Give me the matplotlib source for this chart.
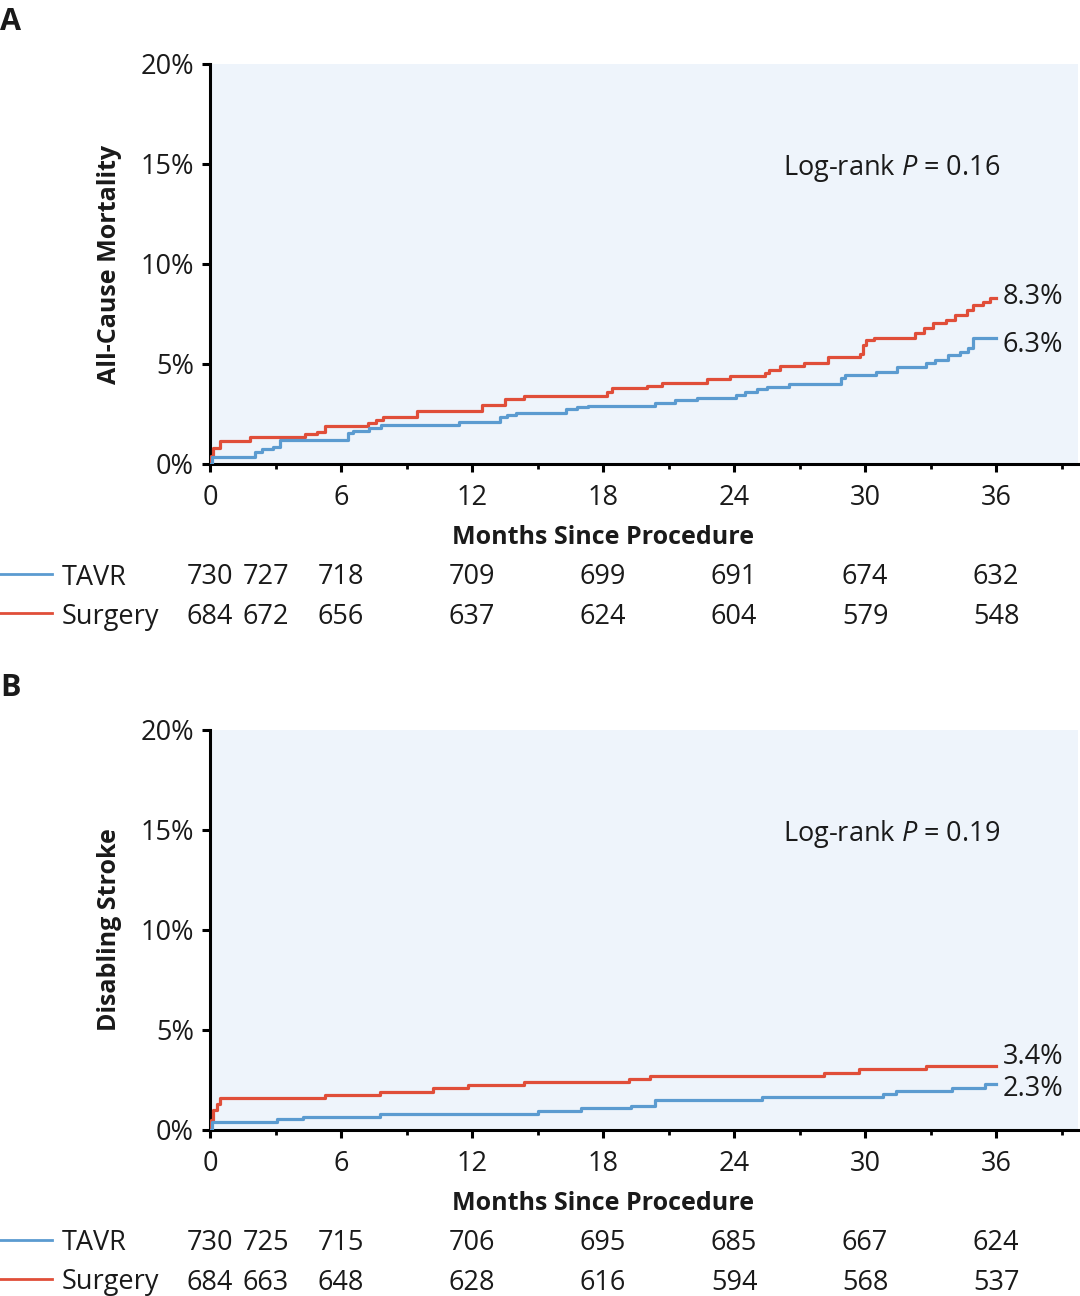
import matplotlib
matplotlib.use("Agg")
import matplotlib.pyplot as plt
from matplotlib.lines import Line2D
from matplotlib.ticker import MultipleLocator, FuncFormatter

plt.rcParams['font.family'] = ['Open Sans', 'DejaVu Sans']
plt.rcParams['mathtext.fontset'] = 'custom'
plt.rcParams['mathtext.it'] = 'Open Sans:italic'
plt.rcParams['mathtext.rm'] = 'Open Sans'

# ---------------- data ----------------
months_ticks = [0, 6, 12, 18, 24, 30, 36]
y_ticks = [0, 5, 10, 15, 20]

# Panel A: all-cause mortality (%)
a_tavr_t = [0, 0.1, 2.06, 2.4, 2.9, 3.2, 6.3, 6.55, 7.3, 7.85, 11.4, 13.3, 13.6, 14.0, 16.3, 16.8,
            17.3, 20.4, 21.3, 22.3, 24.1, 24.5, 25.05, 25.5, 26.5, 28.9, 29.1, 30.5, 31.45, 32.8,
            33.2, 33.8, 34.35, 34.7, 34.95, 36]
a_tavr_y = [0, 0.37, 0.62, 0.75, 0.87, 1.2, 1.57, 1.67, 1.82, 1.95, 2.08, 2.33, 2.47, 2.57, 2.73, 2.85,
            2.92, 3.07, 3.2, 3.32, 3.45, 3.58, 3.73, 3.85, 4.0, 4.28, 4.45, 4.62, 4.87, 5.03,
            5.2, 5.45, 5.62, 5.78, 6.28, 6.28]
a_surg_t = [0, 0.05, 0.15, 0.46, 1.83, 4.35, 4.9, 5.27, 7.24, 7.6, 7.9, 9.47, 12.45, 13.5, 14.4,
            18.2, 18.4, 20.0, 20.7, 22.75, 23.8, 25.4, 25.6, 26.1, 27.2, 28.3, 29.75, 29.9, 30.05,
            30.4, 32.3, 32.7, 33.1, 33.7, 34.1, 34.65, 34.95, 35.4, 35.7, 36]
a_surg_y = [0, 0.4, 0.8, 1.17, 1.33, 1.5, 1.62, 1.9, 2.07, 2.2, 2.37, 2.65, 2.95, 3.25, 3.42,
            3.6, 3.78, 3.9, 4.07, 4.23, 4.4, 4.57, 4.7, 4.9, 5.03, 5.33, 5.5, 5.95, 6.2,
            6.3, 6.53, 6.78, 7.03, 7.2, 7.45, 7.7, 7.95, 8.1, 8.28, 8.28]
a_end_labels = ["8.3%", "6.3%"]
a_pvalue = "0.16"

# Panel B: disabling stroke (%)
b_tavr_t = [0, 0.1, 3.05, 4.27, 7.8, 15.0, 17.0, 19.3, 20.4, 25.3, 30.8, 31.4, 34.0, 35.5, 36]
b_tavr_y = [0, 0.42, 0.55, 0.67, 0.8, 0.95, 1.08, 1.2, 1.5, 1.67, 1.8, 1.95, 2.12, 2.28, 2.28]
b_surg_t = [0, 0.05, 0.15, 0.3, 0.46, 5.27, 7.8, 10.2, 11.8, 14.4, 19.2, 20.15, 28.1, 29.7, 32.8, 36]
b_surg_y = [0, 0.5, 1.0, 1.3, 1.58, 1.75, 1.92, 2.08, 2.25, 2.38, 2.55, 2.7, 2.87, 3.03, 3.2, 3.2]
b_end_labels = ["3.4%", "2.3%"]
b_pvalue = "0.19"

# Number at risk
risk_months = [0, 2.55, 6, 12, 18, 24, 30, 36]
a_risk_tavr = [730, 727, 718, 709, 699, 691, 674, 632]
a_risk_surg = [684, 672, 656, 637, 624, 604, 579, 548]
b_risk_tavr = [730, 725, 715, 706, 695, 685, 667, 624]
b_risk_surg = [684, 663, 648, 628, 616, 594, 568, 537]

BLUE = "#5B9BD0"
RED = "#E04E39"
BG = "#EEF4FB"
TXT = "#1a1a1a"
W, H = 1080, 1296
FS = 19.5
FSB = 18

fig = plt.figure(figsize=(W / 100, H / 100), dpi=100)


def panel(letter, top_px, ylabel, tavr_t, tavr_y, surg_t, surg_y, end_labels, pval,
          risk_t, risk_s, end_label_y):
    left, right = 210, 1078
    bottom_px = top_px + 400
    ax = fig.add_axes([left / W, 1 - bottom_px / H, (right - left) / W, 400 / H])
    ax.set_facecolor(BG)
    ax.step(surg_t, surg_y, where='post', color=RED, lw=2.3, zorder=3)
    ax.step(tavr_t, tavr_y, where='post', color=BLUE, lw=2.3, zorder=3)
    ax.set_xlim(0, 39.75)
    ax.set_ylim(0, 20)
    for s in ['top', 'right']:
        ax.spines[s].set_visible(False)
    for s in ['left', 'bottom']:
        ax.spines[s].set_linewidth(2.2)
    ax.set_xticks(months_ticks)
    ax.xaxis.set_minor_locator(MultipleLocator(3))
    ax.set_yticks(y_ticks)
    ax.yaxis.set_major_formatter(FuncFormatter(lambda v, p: f"{int(v)}%"))
    ax.tick_params(axis='both', which='major', direction='out', length=5.5, width=2.2,
                   labelsize=FS, pad=6, labelcolor=TXT)
    ax.tick_params(axis='x', which='minor', direction='out', length=3.5, width=2.0)
    ax.tick_params(axis='x', which='major', pad=9)
    ax.set_xlabel("Months Since Procedure", fontsize=FSB, fontweight='bold', color=TXT)
    ax.xaxis.set_label_coords(18 / 39.75, -0.1775)
    ax.xaxis.label.set_verticalalignment('center_baseline')
    ax.set_ylabel(ylabel, fontsize=FSB, fontweight='bold', color=TXT)
    ax.yaxis.set_label_coords(-100 / 868, 0.5)
    ax.yaxis.label.set_verticalalignment('center')
    fig.text(783 / W, 1 - (top_px + 99) / H, "Log-rank $\\it{P}$ = " + pval,
             fontsize=FS, va='center_baseline', ha='left', color=TXT)
    for lab, ypx in zip(end_labels, end_label_y):
        fig.text(1003 / W, 1 - ypx / H, lab, fontsize=FS, va='center_baseline', ha='left',
                 color=TXT)
    fig.text(0 / W, 1 - (top_px - 46) / H, letter, fontsize=22, fontweight='bold',
             va='center_baseline', ha='left', color=TXT)
    xt = ax.get_xaxis_transform()
    for ypx, name, color, vals in [(110, "TAVR", BLUE, risk_t), (149, "Surgery", RED, risk_s)]:
        yfig = 1 - (bottom_px + ypx) / H
        fig.add_artist(Line2D([0, 52 / W], [yfig, yfig], color=color, lw=2.0,
                              transform=fig.transFigure))
        fig.text(62 / W, yfig, name, fontsize=FS, va='center_baseline', ha='left', color=TXT)
        for m, v in zip(risk_months, vals):
            ax.text(m, -ypx / 400, str(v), transform=xt, fontsize=FS, va='center_baseline',
                    ha='center', clip_on=False, color=TXT)
    return ax


panel("A", 64, "All-Cause Mortality", a_tavr_t, a_tavr_y, a_surg_t, a_surg_y, a_end_labels,
      a_pvalue, a_risk_tavr, a_risk_surg, [293, 342])
panel("B", 730, "Disabling Stroke", b_tavr_t, b_tavr_y, b_surg_t, b_surg_y, b_end_labels,
      b_pvalue, b_risk_tavr, b_risk_surg, [1054, 1085])

fig.savefig("out.png", dpi=100, facecolor='white')
